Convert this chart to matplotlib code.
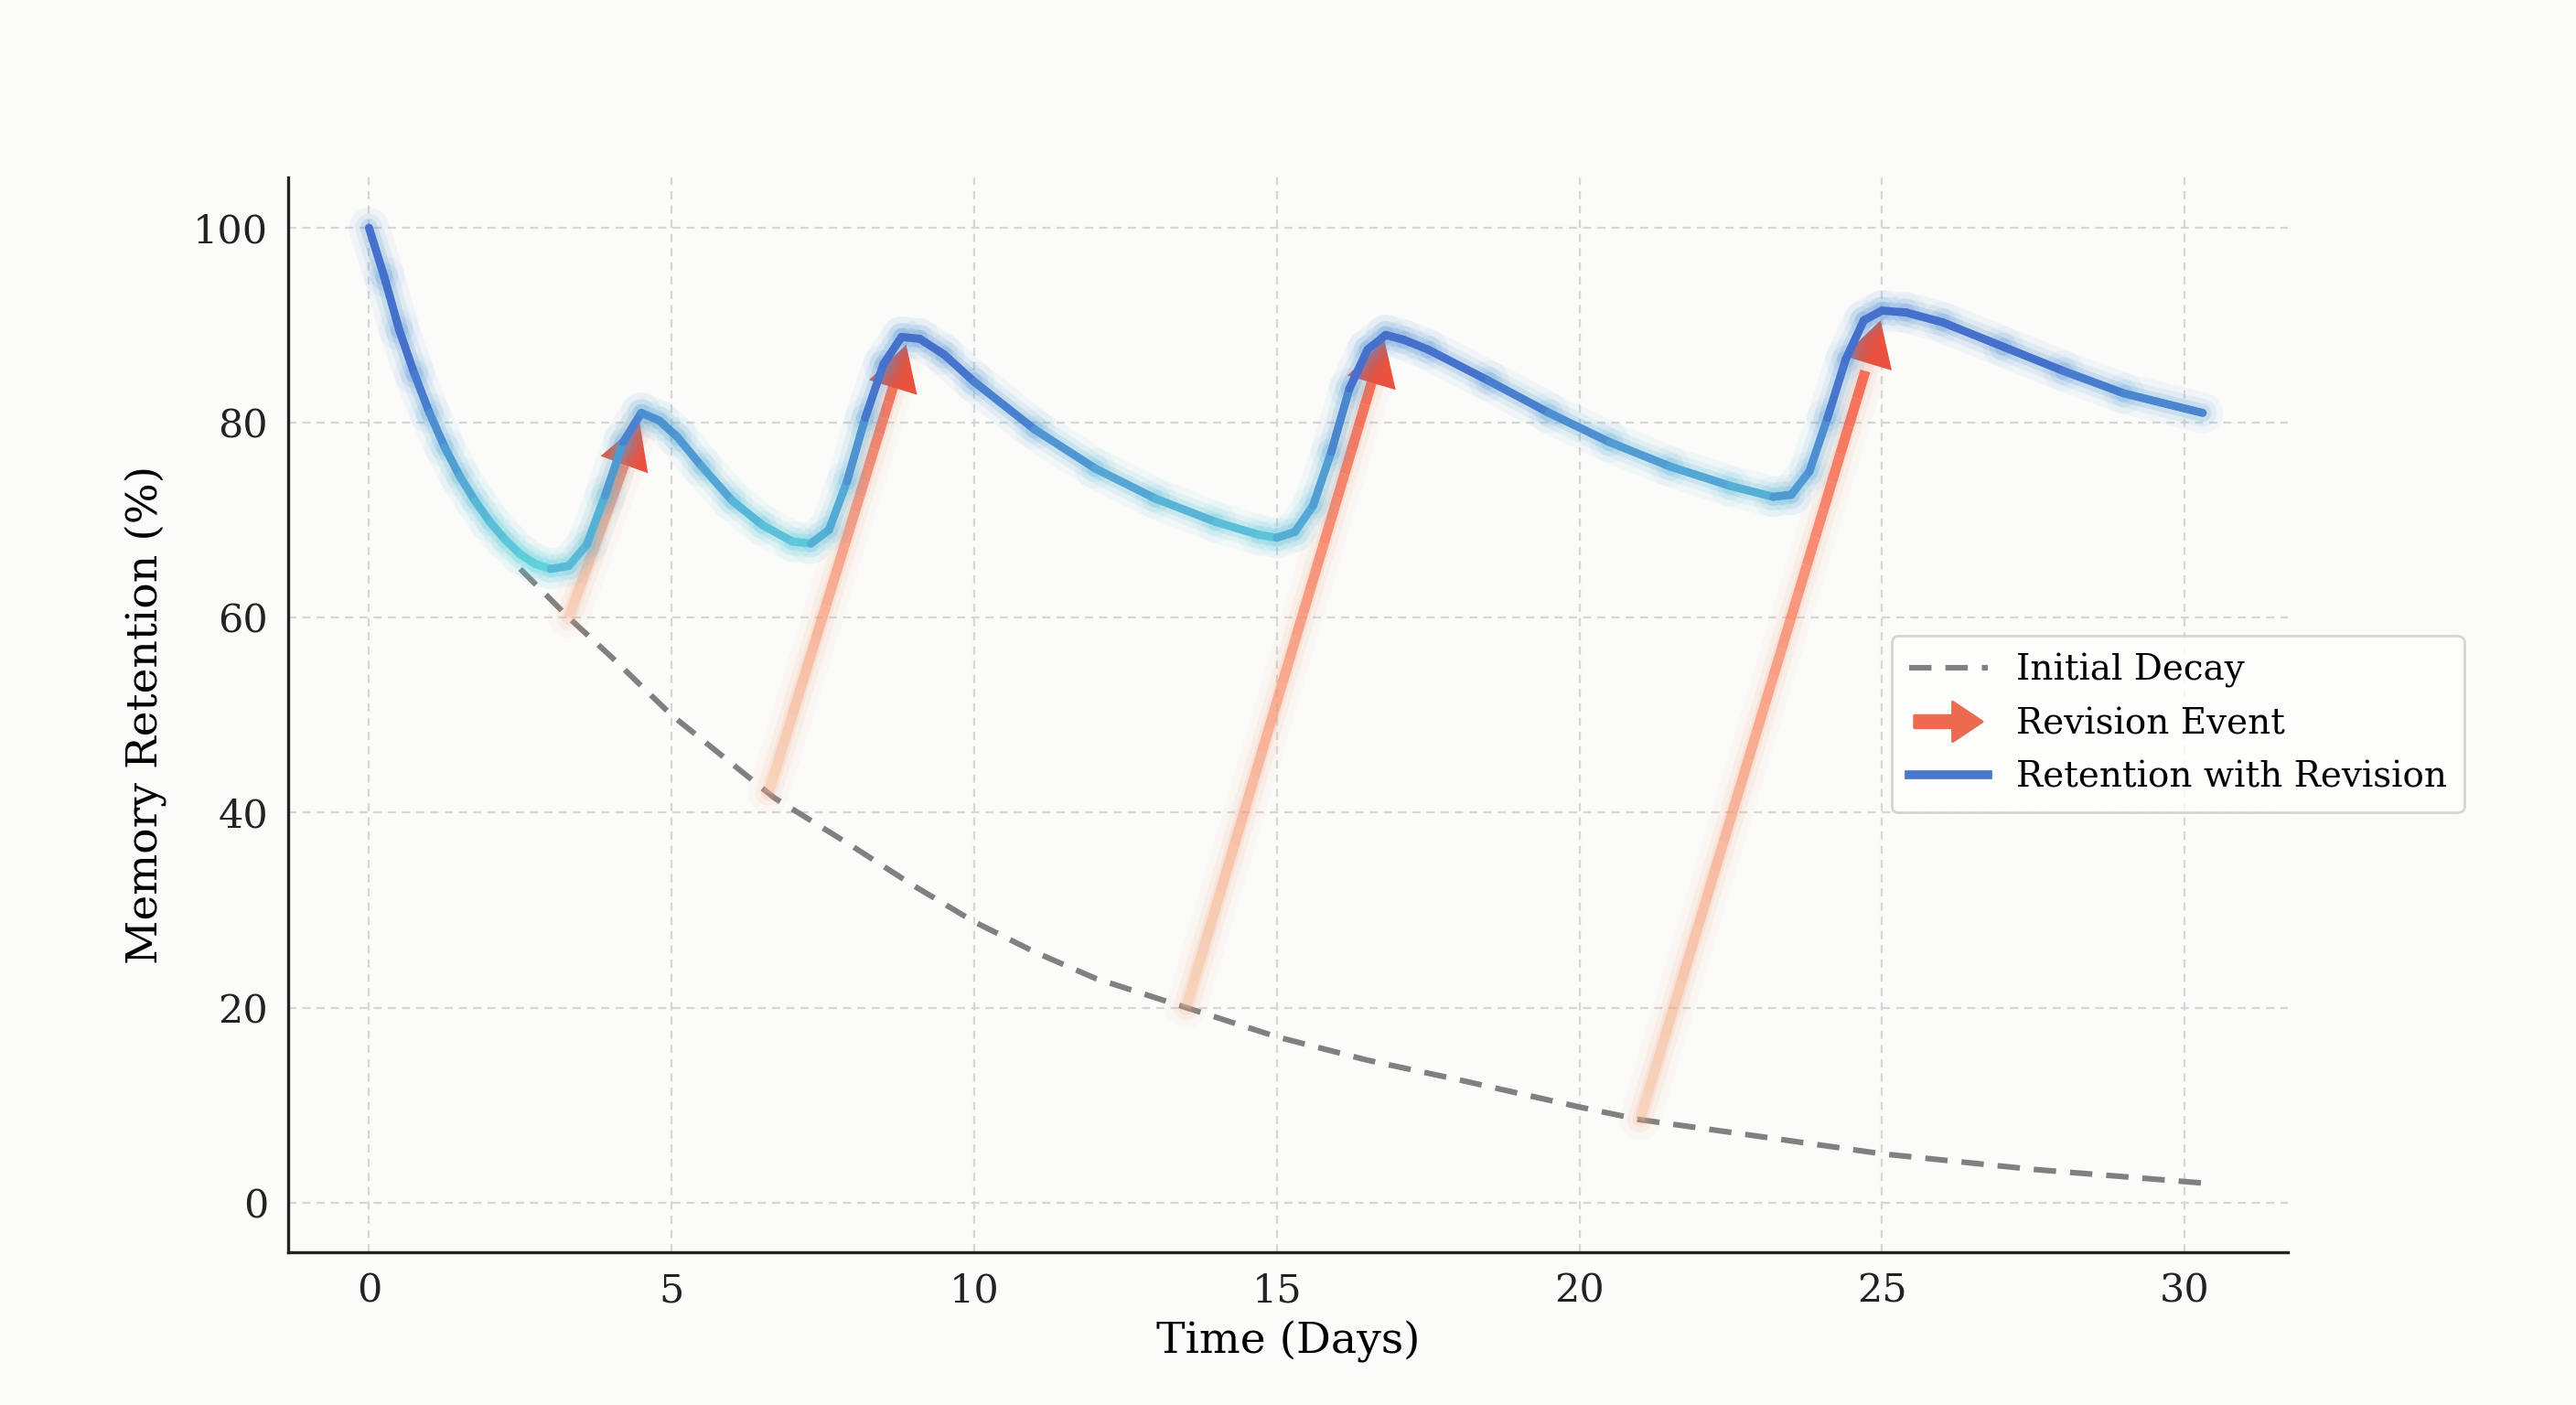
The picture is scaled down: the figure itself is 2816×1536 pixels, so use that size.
import numpy as np
import matplotlib
matplotlib.use("Agg")
import matplotlib.pyplot as plt
from matplotlib.collections import LineCollection
from matplotlib.lines import Line2D
from matplotlib.patches import FancyArrowPatch
from matplotlib.legend_handler import HandlerPatch

decay_t = [2.5, 3.3, 4.0, 5.0, 6.0, 6.7, 8.0, 9.0, 10.0, 11.0, 12.0, 13.5, 15.0, 16.5, 18.0, 20.0, 21.0, 22.5, 25.0, 27.5, 30.3]
decay_v = [65, 60, 56, 50, 45, 41.5, 36.5, 32.5, 28.8, 25.7, 23, 20, 17, 14.6, 12.6, 9.8, 8.5, 7.2, 5.0, 3.4, 2.0]

ret_t = [0, 0.25, 0.5, 0.75, 1, 1.25, 1.5, 1.75, 2, 2.25, 2.5, 2.75, 3, 3.3, 3.6, 3.9, 4.2, 4.5, 4.8, 5.1, 5.5, 6, 6.5, 7, 7.3, 7.6, 7.9, 8.2, 8.5, 8.8, 9.1, 9.5, 10, 11, 12, 13, 14, 14.7, 15, 15.3, 15.6, 15.9, 16.2, 16.5, 16.8, 17.1, 17.5, 18.5, 19.5, 20.5, 21.5, 22.5, 23.2, 23.5, 23.8, 24.1, 24.4, 24.7, 25.0, 25.4, 26, 27, 28, 29, 30.3]
ret_v = [100, 95, 89.5, 85, 81, 77.5, 74.5, 72, 69.8, 68, 66.5, 65.5, 65, 65.3, 67.5, 72.5, 78, 81, 80.2, 78.5, 75.5, 72, 69.5, 67.8, 67.6, 69, 74, 80.5, 86, 88.8, 88.6, 87, 84.2, 79.3, 75.3, 72.2, 69.8, 68.5, 68.2, 68.8, 71.5, 77, 83.5, 87.5, 89, 88.5, 87.5, 84.3, 81, 78, 75.5, 73.5, 72.4, 72.6, 75, 80.5, 86.5, 90.5, 91.5, 91.3, 90.3, 87.8, 85.3, 83, 81]

arrow_start = [(3.3, 60), (6.6, 42), (13.5, 20), (21.0, 8.5)]
arrow_end = [(4.5, 80.5), (8.9, 88.5), (16.8, 89), (25.0, 91)]

plt.rcParams['font.family'] = ['DejaVu Serif']
fig = plt.figure(figsize=(14.08, 7.68), dpi=200, facecolor='#fbfbf9')
ax = fig.add_axes([0.112, 0.109, 0.776, 0.765], facecolor='#fbfbf9')

ax.grid(True, ls=(0, (4, 3)), color='#d6d6d6', lw=0.8)
ax.set_axisbelow(True)

ax.plot(decay_t, decay_v, ls=(0, (4, 2.5)), color='#808080', lw=2.2, zorder=2)

# arrows
for (x0, y0), (x1, y1) in zip(arrow_start, arrow_end):
    for lw, a in [(16, 0.05), (10, 0.09), (6, 0.15)]:
        ax.plot([x0, x1 - (x1 - x0) * 0.06], [y0, y1 - (y1 - y0) * 0.06], color='#f5a080', lw=lw, alpha=a, solid_capstyle='round', zorder=3)
    n = 30
    xs = np.linspace(x0, x1, n)
    ys = np.linspace(y0, y1, n)
    pts = np.array([xs, ys]).T.reshape(-1, 1, 2)
    segs = np.concatenate([pts[:-1], pts[1:]], axis=1)
    cols = [(0.97, 0.72 - 0.38 * i / n, 0.55 - 0.3 * i / n, 0.35 + 0.65 * i / n) for i in range(n - 1)]
    ax.add_collection(LineCollection(segs[:-2], colors=cols[:-2], linewidths=4, zorder=4))
    ax.add_patch(FancyArrowPatch((xs[-5], ys[-5]), (x1, y1), arrowstyle='-|>,head_length=8,head_width=4.5',
                                 mutation_scale=2.2, color='#e8523f', lw=0, zorder=5))

# retention line with glow & gradient
t = np.array(ret_t); v = np.array(ret_v)
pts = np.array([t, v]).T.reshape(-1, 1, 2)
segs = np.concatenate([pts[:-1], pts[1:]], axis=1)
dv = np.diff(v)
c1 = np.array([0.38, 0.84, 0.86]); c2 = np.array([0.27, 0.44, 0.80])
cols = []
for i, d in enumerate(dv):
    lvl = (v[i] - 68) / 20
    f = min(1, max(0, 0.15 + 0.85 * lvl + (0.25 if d > 0 else 0)))
    cols.append(tuple(c1 + (c2 - c1) * f))
glow = [tuple(np.clip(np.array(c) * 0.7 + 0.3 * np.array([0.45, 0.9, 0.95]), 0, 1)) for c in cols]
for lw, a in [(16, 0.06), (11, 0.1), (7, 0.18)]:
    ax.add_collection(LineCollection(segs, colors=glow, linewidths=lw, alpha=a, capstyle='round', joinstyle='round', zorder=6))
ax.add_collection(LineCollection(segs, colors=cols, linewidths=3.2, capstyle='round', joinstyle='round', zorder=7))

ax.set_xlim(-1.33, 31.7)
ax.set_ylim(-5.06, 105.2)
ax.set_xticks([0, 5, 10, 15, 20, 25, 30])
ax.set_yticks([0, 20, 40, 60, 80, 100])
ax.tick_params(labelsize=15.5, colors='#222222', length=0, pad=8)
ax.set_xlabel('Time (Days)', fontsize=17, labelpad=4)
ax.set_ylabel('Memory Retention (%)', fontsize=17, labelpad=10)
for s in ['top', 'right']:
    ax.spines[s].set_visible(False)
for s in ['left', 'bottom']:
    ax.spines[s].set_color('#222222'); ax.spines[s].set_linewidth(1.2)

class ArrowHandler(HandlerPatch):
    def create_artists(self, legend, orig, xd, yd, w, h, fs, trans):
        p = FancyArrowPatch((xd, yd + h / 2), (xd + w, yd + h / 2), arrowstyle='simple,head_length=1.2,head_width=1.6,tail_width=0.5',
                            mutation_scale=h, color='#ec6a50', transform=trans)
        return [p]

arrow_proxy = FancyArrowPatch((0, 0), (1, 0))
handles = [Line2D([], [], ls=(0, (4, 2.5)), color='#808080', lw=2.2), arrow_proxy,
           Line2D([], [], color='#4a78cc', lw=3.5)]
leg = ax.legend(handles, ['Initial Decay', 'Revision Event', 'Retention with Revision'],
                loc='upper left', bbox_to_anchor=(0.793, 0.59), fontsize=14, frameon=True,
                handler_map={FancyArrowPatch: ArrowHandler()}, handlelength=2.2, borderpad=0.5, labelspacing=0.55)
leg.get_frame().set_edgecolor('#cccccc'); leg.get_frame().set_facecolor('white')

fig.savefig('out.png', dpi=200, facecolor=fig.get_facecolor())
